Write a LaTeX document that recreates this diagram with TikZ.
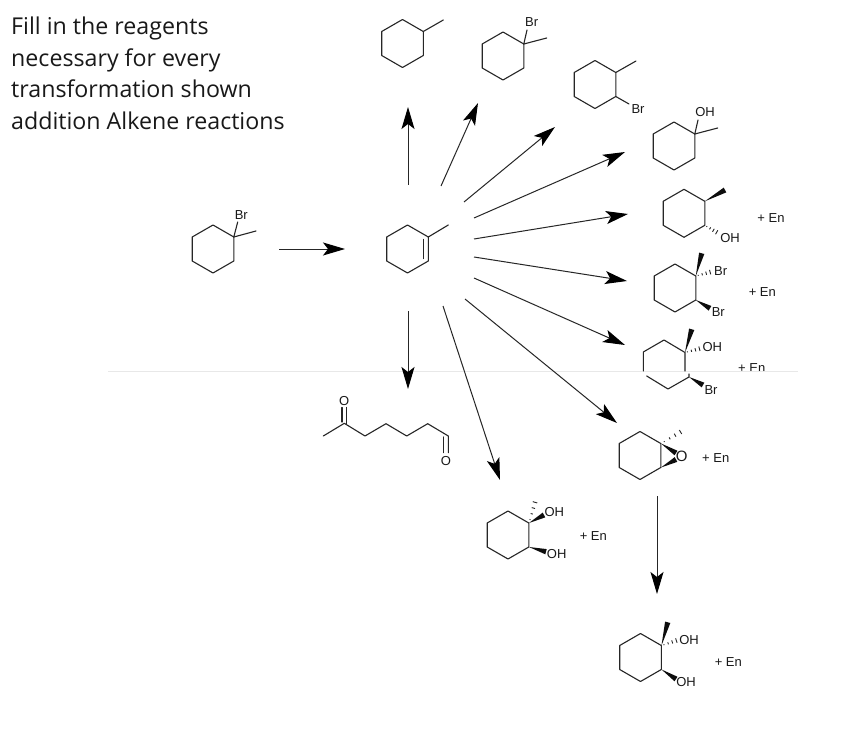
\documentclass[tikz,border=0pt]{standalone}
\usepackage{fontspec}
\setmainfont{Liberation Sans}
\newfontfamily\titlefont{Open Sans}
\usetikzlibrary{arrows.meta,calc}
\tikzset{
  bond/.style={line width=1.1pt,draw=black!85,line join=round,line cap=round},
  rxn/.style={line width=1pt,draw=black!85,-{Stealth[length=22pt,width=13pt,inset=5pt,color=black]}},
  atom/.style={inner sep=0pt,font=\fontsize{13}{15}\selectfont,text=black!90},
  bigatom/.style={inner sep=0pt,font=\fontsize{15}{17}\selectfont,text=black!90},
  extra/.style={inner sep=0pt,font=\fontsize{13}{15}\selectfont,text=black!90},
  title/.style={inner sep=0pt,anchor=base west,font=\titlefont\fontsize{23.2}{28}\selectfont,text=black!90}
}
\newcommand{\ringat}[2]{\draw[bond,shift={(#1,#2)}] (0,-24) -- (20.8,-12) -- (20.8,12) -- (0,24) -- (-20.8,12) -- (-20.8,-12) -- cycle;}
\newcommand{\wedgebond}[2]{\fill[black!95] #1 -- ($#2!2.7pt!90:#1$) -- ($#2!2.7pt!-90:#1$) -- cycle;}
\newcommand{\hashbond}[2]{\foreach \t/\w in {.15/.5,.4/1.1,.65/1.7,.9/2.3}{\draw[line width=.9pt,black!85] ($#1!\t!#2!\w pt!90:#2$) -- ($#1!\t!#2!\w pt!-90:#2$);}}
\begin{document}
\begin{tikzpicture}[x=1pt,y=-1pt]
\useasboundingbox (0,0) rectangle (854,730);
\fill[white] (0,0) rectangle (854,730);
\draw[black!9,line width=.8pt] (108,371) -- (798,371);

% title
\node[title] (t1) at (11,35) {Fill in the reagents};
\node[title] (t2) at (11,67) {necessary for every};
\node[title] (t3) at (11,98) {transformation shown};
\node[title] (t4) at (11,129.5) {addition Alkene reactions};

% arrow end points
\foreach \n/\x/\y in {s1/408/185,e1/408/107,s2/441/186,e2/478/103,s3/464/202,e3/555/127,
  s4/474/218,e4/625/152,s5/474/239,e5/628/214,s6/474/257,e6/627/281,s7/474/278,e7/625/345,
  s8/465/299,e8/617/423,s9/657/496,e9/657/594,s10/443/306,e10/500/480,s11/408/311,e11/408/389,
  s12/279/249,e12/345/249}{\coordinate (\n) at (\x,\y);}
\foreach \i in {1,...,12}{\draw[rxn] (s\i) -- (e\i);}

% starting bromide
\ringat{213}{249}
\node[atom] (br0) at (241.3,215) {Br};
\draw[bond] (233.8,237) -- (237.7,222);
\draw[bond] (233.8,237) -- (256,231);

% alkene
\ringat{407.5}{249}
\draw[bond] (428.3,237) -- (448.3,225);
\draw[bond] (423.5,239.5) -- (423.5,258.5);

% product 1
\ringat{402.5}{43.5}
\draw[bond] (423.3,31.5) -- (443.3,20);

% product 2
\ringat{503}{56}
\node[atom] (br2) at (531.7,22) {Br};
\draw[bond] (523.8,44) -- (527,30);
\draw[bond] (523.8,44) -- (546.7,38);

% product 3
\ringat{595}{84.5}
\draw[bond] (615.8,72.5) -- (636,61);
\draw[bond] (615.8,96.5) -- (629,104);
\node[atom] (br3) at (638,109) {Br};

% product 4
\ringat{674}{146}
\node[atom] (oh4) at (705,112) {OH};
\draw[bond] (694.8,134) -- (698,120);
\draw[bond] (694.8,134) -- (717.7,128);

% product 5
\ringat{684}{213.3}
\wedgebond{(704.8,201.3)}{(725,190)}
\hashbond{(704.8,225.3)}{(718,233)}
\node[atom] (oh5) at (730,238) {OH};
\node[extra] (en5) at (771,217.7) {+ En};

% product 6
\ringat{675}{288}
\wedgebond{(695.8,276)}{(701.7,253.3)}
\hashbond{(695.8,276)}{(711.7,271.7)}
\node[atom] (br6a) at (720.7,270.7) {Br};
\wedgebond{(695.8,300)}{(710,308.3)}
\node[atom] (br6b) at (718.3,312.3) {Br};
\node[extra] (en6) at (762.3,291.7) {+ En};

% product 7 (displaced below the grey line)
\draw[bond] (643.3,371) -- (643.3,352) -- (664,340) -- (685,352.5) -- (685,371);
\draw[bond] (646.7,376) -- (668,389) -- (689,377) -- (689,374);
\wedgebond{(685,352.5)}{(691.7,329.3)}
\hashbond{(685,352.5)}{(701,348.3)}
\node[atom] (oh7) at (712.3,347.3) {OH};
\wedgebond{(689,377)}{(703,385)}
\node[atom] (br7) at (711,390) {Br};
\begin{scope}
\clip (720,355) rectangle (790,370.5);
\node[extra] (en7) at (751.7,368.5) {+ En};
\end{scope}

% epoxide
\ringat{640}{455.5}
\hashbond{(661,443.5)}{(682.7,430.7)}
\wedgebond{(661,443.5)}{(676,453)}
\wedgebond{(661,467.5)}{(676,459.5)}
\node[bigatom] (oep) at (681.7,456.7) {O};
\node[extra] (en8) at (715.7,458.3) {+ En};

% diol (bottom centre)
\ringat{508}{535}
\hashbond{(529,523)}{(535.7,500)}
\wedgebond{(529,523)}{(544,515)}
\node[atom] (oh9a) at (554.3,512.3) {OH};
\wedgebond{(529,547)}{(546,551.7)}
\node[atom] (oh9b) at (556.7,554.3) {OH};
\node[extra] (en9) at (593.3,535.7) {+ En};

% diol (bottom right)
\ringat{640.5}{657.5}
\wedgebond{(661.5,645.5)}{(667.7,622.3)}
\hashbond{(661.5,645.5)}{(678,640)}
\node[atom] (oh10a) at (689,640) {OH};
\wedgebond{(661.5,669.5)}{(676,679)}
\node[atom] (oh10b) at (686,682.3) {OH};
\node[extra] (en10) at (728.3,661.7) {+ En};

% keto-aldehyde
\draw[bond] (323.3,436) -- (344.3,423.3) -- (365,436) -- (386,423.7) -- (406.7,436) -- (427.7,423.7) -- (448.3,436) -- (448.3,452.7);
\draw[bond] (443.5,437) -- (443.5,452.7);
\draw[bond] (342,422) -- (342,407.5);
\draw[bond] (346.8,423.5) -- (346.8,407.5);
\node[atom] (o11) at (344.3,400.7) {O};
\node[atom] (o12) at (446,460.7) {O};
\end{tikzpicture}
\end{document}
